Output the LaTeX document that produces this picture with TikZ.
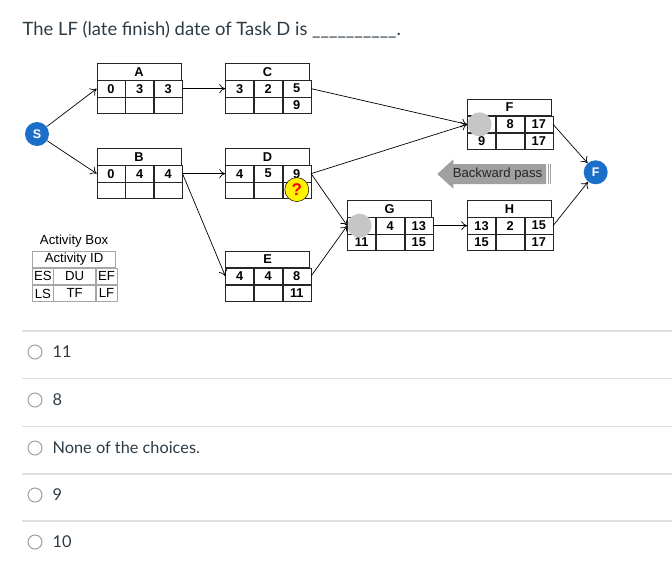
\documentclass[tikz,border=0pt]{standalone}
\usepackage{fontspec}
\setmainfont{Lato}
\newfontfamily\arial{Liberation Sans}
\usetikzlibrary{positioning,arrows.meta}

\definecolor{canvasblue}{RGB}{28,111,201}
\definecolor{inktext}{RGB}{45,59,69}
\definecolor{rulegray}{RGB}{224,224,224}
\definecolor{passgray}{RGB}{160,160,160}

\tikzset{
  cell/.style={draw=black!85, line width=0.6pt, minimum width=28pt, minimum height=16.3pt,
    inner sep=0pt, font=\arial\bfseries\fontsize{12.8}{12.8}\selectfont},
  keycell/.style={cell, draw=gray!70, minimum height=16.5pt, font=\arial\fontsize{13.2}{13.2}\selectfont},
  link/.style={line width=0.7pt, -{To[length=6pt,width=9pt]}},
  endpt/.style={circle, fill=canvasblue, text=white, minimum size=24pt, inner sep=0pt,
    font=\arial\bfseries\fontsize{12.5}{12.5}\selectfont},
  blob/.style={circle, fill=gray!45, minimum size=24pt, inner sep=0pt},
  qmark/.style={circle, draw=black, line width=0.5pt, fill=yellow, text=red, minimum size=24pt,
    inner sep=0pt, font=\arial\bfseries\fontsize{17}{17}\selectfont},
  radio/.style={circle, draw=gray!75, line width=1pt, minimum size=14pt, inner sep=0pt},
  choice/.style={anchor=west, text=inktext, inner sep=0pt, font=\fontsize{16.3}{19}\selectfont},
}

% name, left, top, id, ES, DU, EF, LS, LF
\newcommand\actbox[9]{%
  \node[cell, minimum width=84pt, anchor=north west] (#1) at (#2,#3) {#4};
  \node[cell, anchor=north west] (#1-es) at (#1.south west) {#5};
  \node[cell, anchor=west] (#1-du) at (#1-es.east) {#6};
  \node[cell, anchor=west] (#1-ef) at (#1-du.east) {#7};
  \node[cell, anchor=north] (#1-ls) at (#1-es.south) {#8};
  \node[cell, anchor=north] (#1-tf) at (#1-du.south) {};
  \node[cell, anchor=north] (#1-lf) at (#1-ef.south) {#9};
}

\begin{document}
\begin{tikzpicture}[x=1pt,y=-1pt]
\useasboundingbox (0,0) rectangle (672,571);

\node[anchor=west, text=inktext, inner sep=0pt, font=\fontsize{18.4}{22}\selectfont] (question) at (22.5,30)
  {The LF (late finish) date of Task D is \_\_\_\_\_\_\_\_\_\_.};

\actbox{a}{96.7}{63.3}{A}{0}{3}{3}{}{}
\actbox{b}{96.7}{148.3}{B}{0}{4}{4}{}{}
\actbox{c}{225.3}{63.3}{C}{3}{2}{5}{}{9}
\actbox{d}{225.3}{148.3}{D}{4}{5}{9}{}{}
\actbox{e}{225.3}{250.7}{E}{4}{4}{8}{}{11}
\actbox{g}{347.3}{200.3}{G}{}{4}{13}{11}{15}
\actbox{h}{467.3}{200.3}{H}{13}{2}{15}{15}{17}
\actbox{f}{467.3}{99}{F}{}{8}{17}{9}{17}

\node[blob] (fblob) at ([xshift=-2pt]f-es.center) {};
\node[blob] (gblob) at ([xshift=-2pt]g-es.center) {};
\node[qmark] (ask) at ([yshift=1pt]d-lf.center) {?};

\node[endpt] (s) at (37,134) {S};
\node[endpt] (fin) at (595.7,172.3) {F};

\draw[link] (s) -- (a-es.west);
\draw[link] (s) -- (b-es.west);
\draw[link] (a-ef.east) -- (c-es.west);
\draw[link] (b-ef.east) -- (d-es.west);
\draw[link] (b-ef.east) -- (e-es.west);
\draw[link] (c-ef.east) -- (f-es.west);
\draw[link] (d-ef.east) -- (f-es.west);
\draw[link] (d-ef.east) -- (g-es.west);
\draw[link] (e-ef.east) -- (g-es.west);
\draw[link] (g-ef.east) -- (h-es.west);
\draw[link] (f-ef.east) -- (fin);
\draw[link] (h-ef.east) -- (fin);

\fill[passgray] (546,164) -- (453.3,164) -- (453.3,159.3) -- (437.3,174) -- (453.3,188.7)
  -- (453.3,184) -- (546,184) -- cycle;
\draw[passgray, line width=1pt] (548.3,164) -- (548.3,184);
\draw[passgray, line width=1pt] (550.6,164) -- (550.6,184);
\node[text=black!85, font=\arial\fontsize{13.2}{13.2}\selectfont] (pass) at (497.5,174.5) {Backward pass};

\node[keycell, minimum width=83pt, anchor=north west] (key) at (32.3,250.7) {Activity ID};
\node[keycell, minimum width=20.5pt, anchor=north west] (key-es) at (key.south west) {ES};
\node[keycell, minimum width=42pt, anchor=west] (key-du) at (key-es.east) {DU};
\node[keycell, minimum width=20.5pt, anchor=west] (key-ef) at (key-du.east) {EF};
\node[keycell, minimum width=20.5pt, anchor=north] (key-ls) at (key-es.south) {LS};
\node[keycell, minimum width=42pt, anchor=north] (key-tf) at (key-du.south) {TF};
\node[keycell, minimum width=20.5pt, anchor=north] (key-lf) at (key-ef.south) {LF};
\node[font=\arial\fontsize{13.2}{13.2}\selectfont, above=0pt of key] (keytitle) {Activity Box};

\foreach \yy in {331,378.3,426.7,474,521}
  \draw[rulegray, line width=1.5pt] (22,\yy) -- (672,\yy);

\foreach \yy/\txt [count=\i] in {352/11, 400/8, 448/None of the choices., 495/9, 542/10}{
  \node[radio] (r\i) at (35,\yy) {};
  \node[choice, right=10pt of r\i] (c\i) {\txt};
}
\end{tikzpicture}
\end{document}
